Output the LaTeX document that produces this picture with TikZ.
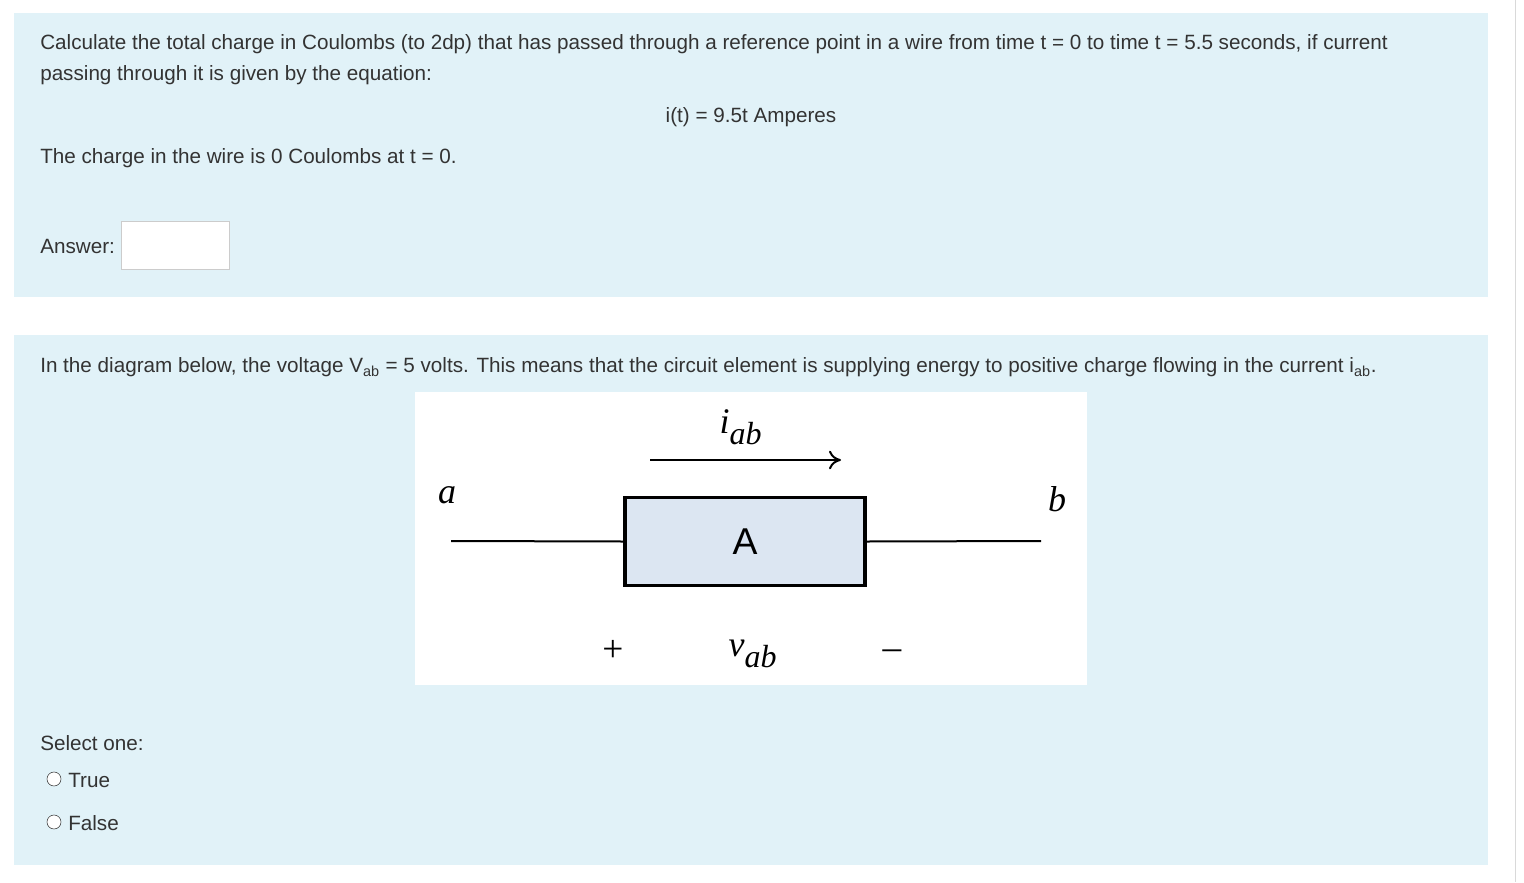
\documentclass[tikz,border=0pt]{standalone}
\usepackage{fontspec}
\usetikzlibrary{arrows.meta}
\setmainfont{Liberation Serif}
\newfontfamily\uif{Liberation Sans}
\begin{document}
\begin{tikzpicture}[x=0.75pt,y=-0.75pt,
  txt/.style={anchor=west,inner sep=0,font=\uif\fontsize{15.5}{18}\selectfont,text=black!80},
  math/.style={inner sep=0,font=\fontsize{27}{30}\selectfont\itshape}]
\definecolor{panelblue}{HTML}{E1F2F8}
\definecolor{boxblue}{HTML}{DCE6F2}
\useasboundingbox[fill=white] (0,0) rectangle (1524,882);
\draw[black!15] (1515,0) -- (1515,882);
\fill[panelblue] (14,13) rectangle (1488,297);
\fill[panelblue] (14,335) rectangle (1488,865);
\node[txt] (q1) at (40,44) {Calculate the total charge in Coulombs (to 2dp) that has passed through a reference point in a wire from time t = 0 to time t = 5.5 seconds, if current};
\node[txt] (q2) at (40,75) {passing through it is given by the equation:};
\node[txt,anchor=center] (eq) at (751,117) {i(t) = 9.5t Amperes};
\node[txt] (q3) at (40,158) {The charge in the wire is 0 Coulombs at t = 0.};
\node[txt] (ans) at (40,246) {Answer:};
\draw[fill=white,draw=black!20] (121,221) rectangle (229,269);
\node[txt] (q4) at (40,367) {In the diagram below, the voltage V\textsubscript{ab} = 5 volts. This means that the circuit element is supplying energy to positive charge flowing in the current i\textsubscript{ab}.};
\fill[white] (415,392) rectangle (1087,685);
\node[draw=black,line width=2.5pt,fill=boxblue,minimum width=180pt,minimum height=66pt,inner sep=0,font=\uif\fontsize{28}{32}\selectfont] (A) at (745,541.5) {A};
\coordinate (wa) at (451,541);
\coordinate (wb) at (1041,541);
\draw[line width=1.5pt] (wa) -- (A.west);
\draw[line width=1.5pt] (A.east) -- (wb);
\coordinate (ar1) at (650,460);
\coordinate (ar2) at (841,460);
\draw[line width=1.5pt,-{To[length=9pt,width=14pt]}] (ar1) -- (ar2);
\node[math] (iab) at (741,427) {i\textsubscript{\fontsize{24}{28}\selectfont ab}};
\node[math] (a) at (447,495) {a};
\node[math] (b) at (1057,499) {b};
\node[inner sep=0,font=\fontsize{28}{30}\selectfont] (plus) at (613,651) {+};
\node[math] (vab) at (753,654) {v\textsubscript{\fontsize{24}{28}\selectfont ab}};
\node[inner sep=0,font=\fontsize{28}{30}\selectfont] (minus) at (892,655) {–};
\node[txt] (sel) at (40,743) {Select one:};
\draw[black!80,fill=white] (54,779) circle (7);
\draw[black!80,fill=white] (54,822) circle (7);
\node[txt] (t) at (68,780) {True};
\node[txt] (f) at (68,823) {False};
\end{tikzpicture}
\end{document}
